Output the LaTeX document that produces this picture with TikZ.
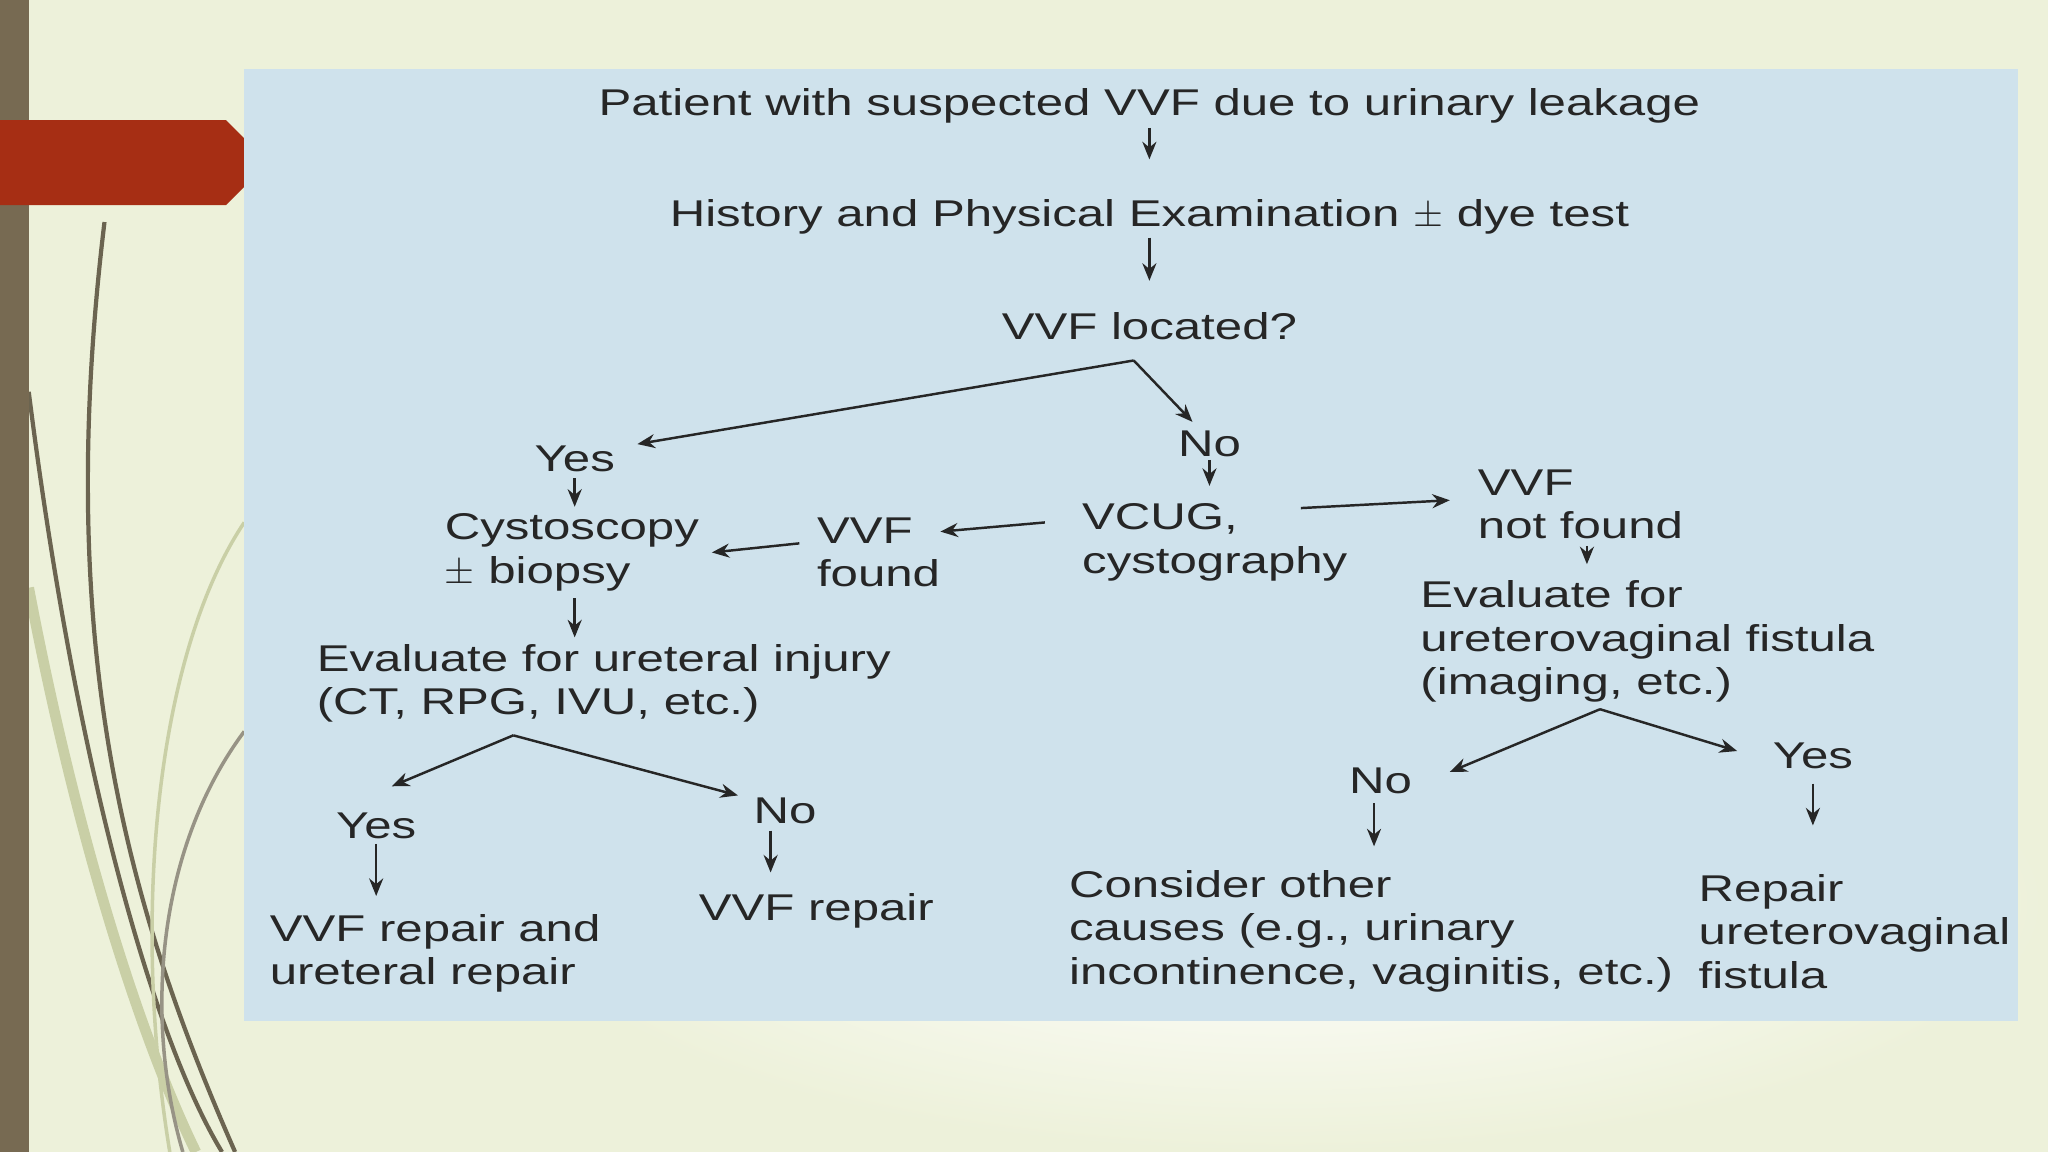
\documentclass[tikz,border=0pt]{standalone}
\usepackage{fontspec}
\setmainfont{Liberation Sans}[FakeStretch=1.32]
\usetikzlibrary{arrows.meta}
\definecolor{bgc}{HTML}{EDF1DA}
\definecolor{panel}{HTML}{CFE2EC}
\definecolor{tab}{HTML}{A62E14}
\definecolor{bar}{HTML}{776A52}
\definecolor{curveA}{HTML}{6B6450}
\definecolor{curveB}{HTML}{C9CFA6}
\begin{document}
\begin{tikzpicture}[x=0.013061cm,y=-0.013061cm,
  txt/.style={font=\fontsize{10.6}{12.4}\selectfont,inner sep=0pt,align=left,text=black!85,yshift=-0.04cm},
  arr/.style={-{Stealth[length=5pt,width=4pt]},line width=0.7pt,black!85}]
\useasboundingbox (0,0) rectangle (1568,882);
\fill[bgc] (0,0) rectangle (1568,882);
\shade[inner color=white,outer color=bgc] (400,500) rectangle (1568,882);
% decorative curves
\draw[curveA,line width=1.2pt] (80,170) .. controls (40,500) and (100,700) .. (180,882);
\draw[curveA,line width=1.2pt] (22,300) .. controls (60,600) and (120,800) .. (170,882);
\draw[curveB,line width=3pt] (22,450) .. controls (60,650) and (110,800) .. (150,882);
\draw[curveA!70,line width=1pt] (187,560) .. controls (120,650) and (110,780) .. (140,882);
\draw[curveB,line width=1pt] (187,400) .. controls (120,500) and (100,700) .. (130,882);
\fill[bar] (0,0) rectangle (22,882);
\fill[tab] (0,92) -- (173,92) -- (187,106) -- (187,143) -- (173,157) -- (0,157) -- cycle;
\fill[panel] (187,53) rectangle (1545,782);
% nodes
\node[txt] (top) at (880,78) {Patient with suspected VVF due to urinary leakage};
\node[txt] (hist) at (880,163) {History and Physical Examination $\pm$ dye test};
\node[txt] (loc) at (880,247) {VVF located?};
\node[txt] (yes1) at (440,348) {Yes};
\node[txt] (no1) at (926,337) {No};
\node[txt,anchor=west] (cysto) at (340,420) {Cystoscopy\\$\pm$ biopsy};
\node[txt,anchor=west] (found) at (625,420) {VVF\\found};
\node[txt,anchor=west] (vcug) at (828,412) {VCUG,\\cystography};
\node[txt,anchor=west] (nf) at (1131,383) {VVF\\not found};
\node[txt,anchor=west] (evu) at (242,520) {Evaluate for ureteral injury\\(CT, RPG, IVU, etc.)};
\node[txt,anchor=west] (evv) at (1087,488) {Evaluate for\\ureterovaginal fistula\\(imaging, etc.)};
\node[txt] (yes2) at (288,629) {Yes};
\node[txt] (no2) at (601,618) {No};
\node[txt] (no3) at (1057,595) {No};
\node[txt] (yes3) at (1388,576) {Yes};
\node[txt,anchor=west] (rep2) at (206,727) {VVF repair and\\ureteral repair};
\node[txt] (rep1) at (625,694) {VVF repair};
\node[txt,anchor=west] (cons) at (818,710) {Consider other\\causes (e.g., urinary\\incontinence, vaginitis, etc.)};
\node[txt,anchor=west] (ruv) at (1300,710) {Repair\\ureterovaginal\\fistula};
% branch points
\coordinate (b1) at (868,276);
\coordinate (b2) at (393,563);
\coordinate (b3) at (1225,543);
% arrows
\draw[arr] (880,98) -- (880,122);
\draw[arr] (880,182) -- (880,215);
\draw[arr] (b1) -- (488,340);
\draw[arr] (b1) -- (913,323);
\draw[arr] (440,366) -- (440,388);
\draw[arr] (926,352) -- (926,372);
\draw[arr] (440,458) -- (440,488);
\draw[arr] (800,400) -- (720,407);
\draw[arr] (612,416) -- (545,423);
\draw[arr] (996,389) -- (1110,383);
\draw[arr] (1215,418) -- (1215,432);
\draw[arr] (b2) -- (300,602);
\draw[arr] (b2) -- (565,609);
\draw[arr] (b3) -- (1110,591);
\draw[arr] (b3) -- (1330,575);
\draw[arr] (288,646) -- (288,686);
\draw[arr] (590,636) -- (590,668);
\draw[arr] (1052,615) -- (1052,648);
\draw[arr] (1388,600) -- (1388,632);
\end{tikzpicture}
\end{document}
